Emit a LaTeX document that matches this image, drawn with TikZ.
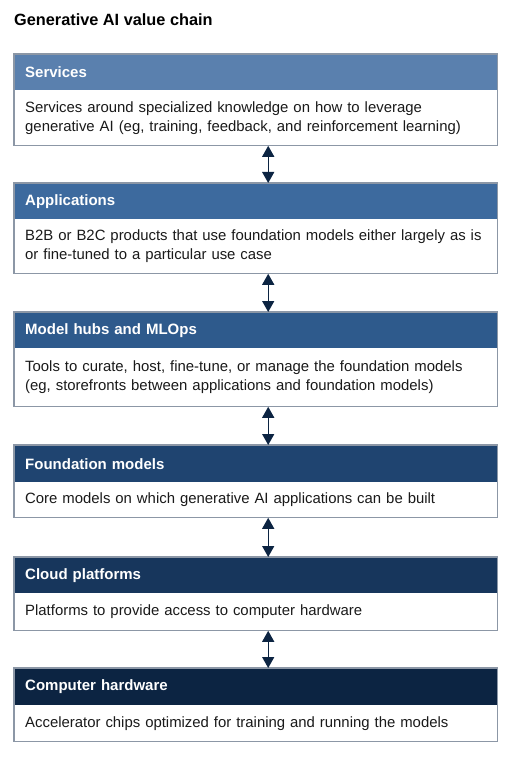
\documentclass[tikz,border=0pt]{standalone}
\usepackage{fontspec}
\setmainfont{Liberation Sans}
\usetikzlibrary{arrows.meta}
\definecolor{cA}{HTML}{5A80AE}
\definecolor{cB}{HTML}{3D6A9E}
\definecolor{cC}{HTML}{2E5A8C}
\definecolor{cD}{HTML}{1F4470}
\definecolor{cE}{HTML}{17365C}
\definecolor{cF}{HTML}{0C2442}
\definecolor{framec}{HTML}{8C97A6}
\definecolor{arrc}{HTML}{0C2442}
\definecolor{txtc}{HTML}{1A1A1A}
\begin{document}
\begin{tikzpicture}[x=1pt,y=-1pt,
  hdr/.style={anchor=north west, text width=461pt, inner xsep=11pt, inner ysep=0pt,
    minimum height=36pt, align=left, text=white, font=\fontsize{15}{17}\selectfont\bfseries},
  bodybox/.style={anchor=north west, text width=461pt, inner xsep=11pt, inner ysep=0pt,
    align=left, text=txtc, font=\fontsize{14.9}{19}\selectfont},
  frame/.style={draw=framec, line width=1.3pt},
  arr/.style={draw=arrc, line width=1.3pt,
    {Triangle[width=12pt,length=11pt]}-{Triangle[width=12pt,length=11pt]}}]
\useasboundingbox[fill=white] (0,0) rectangle (510,767);
\node[anchor=base west, inner sep=0pt, text=black, font=\fontsize{16.3}{19}\selectfont\bfseries] (title) at (14,26) {Generative AI value chain};

% Box 1
\node[hdr, fill=cA] (h1) at (14,54) {Services};
\node[bodybox, minimum height=55pt] (b1) at (h1.south west) {Services around specialized knowledge on how to leverage\\generative AI (eg, training, feedback, and reinforcement learning)};
\draw[frame] (h1.north west) rectangle (b1.south east);
% Box 2
\node[hdr, fill=cB] (h2) at (14,183) {Applications};
\node[bodybox, minimum height=54pt] (b2) at (h2.south west) {B2B or B2C products that use foundation models either largely as is\\or fine-tuned to a particular use case};
\draw[frame] (h2.north west) rectangle (b2.south east);
% Box 3
\node[hdr, fill=cC] (h3) at (14,312) {Model hubs and MLOps};
\node[bodybox, minimum height=58pt] (b3) at (h3.south west) {Tools to curate, host, fine-tune, or manage the foundation models\\(eg, storefronts between applications and foundation models)};
\draw[frame] (h3.north west) rectangle (b3.south east);
% Box 4
\node[hdr, fill=cD, minimum height=37pt] (h4) at (14,445) {Foundation models};
\node[bodybox, minimum height=35pt] (b4) at (h4.south west) {Core models on which generative AI applications can be built};
\draw[frame] (h4.north west) rectangle (b4.south east);
% Box 5
\node[hdr, fill=cE] (h5) at (14,557) {Cloud platforms};
\node[bodybox, minimum height=37pt] (b5) at (h5.south west) {Platforms to provide access to computer hardware};
\draw[frame] (h5.north west) rectangle (b5.south east);
% Box 6
\node[hdr, fill=cF, minimum height=37pt] (h6) at (14,668) {Computer hardware};
\node[bodybox, minimum height=36pt] (b6) at (h6.south west) {Accelerator chips optimized for training and running the models};
\draw[frame] (h6.north west) rectangle (b6.south east);

% Arrows
\draw[arr] ([xshift=12.5pt]b1.south) -- ([xshift=12.5pt]h2.north);
\draw[arr] ([xshift=12.5pt]b2.south) -- ([xshift=12.5pt]h3.north);
\draw[arr] ([xshift=12.5pt]b3.south) -- ([xshift=12.5pt]h4.north);
\draw[arr] ([xshift=12.5pt]b4.south) -- ([xshift=12.5pt]h5.north);
\draw[arr] ([xshift=12.5pt]b5.south) -- ([xshift=12.5pt]h6.north);
\end{tikzpicture}
\end{document}
